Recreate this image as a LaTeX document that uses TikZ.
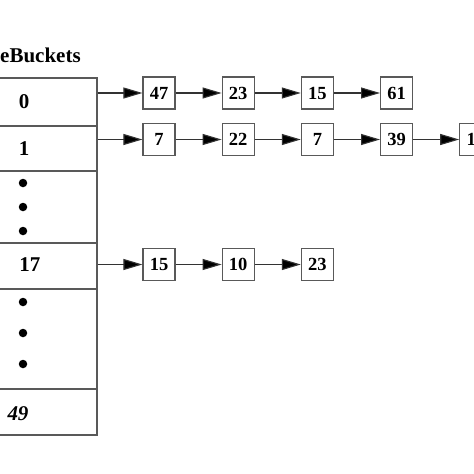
\documentclass[tikz,border=0pt]{standalone}
\usepackage{fontspec}
\setmainfont{Liberation Serif}
\usetikzlibrary{arrows.meta, positioning}

\begin{document}
\begin{tikzpicture}[
    x=1pt, y=-1pt,
    cell/.style={rectangle, draw=black!65, line width=1.2pt, minimum width=140pt, inner sep=0pt},
    item/.style={rectangle, draw=black!65, line width=1.2pt, minimum size=32pt, inner sep=0pt, font=\fontsize{18.5}{18.5}\selectfont\bfseries},
    link/.style={-{Triangle[length=19pt, width=11pt, fill=black]}, draw=black!80, line width=1.1pt},
    idx/.style={inner sep=0pt, font=\fontsize{21}{21}\selectfont\bfseries},
    dotmark/.style={circle, fill=black, minimum size=8.5pt, inner sep=0pt},
    node distance=46pt,
]
\clip (0,0) rectangle (474,474);

% Title
\node[anchor=base west, inner sep=0pt, font=\fontsize{21}{21}\selectfont\bfseries] (title) at (0,62) {eBuckets};

% Bucket table
\foreach \name/\y/\h in {c0/102/48, c1/148.5/45, cd1/207/72, c17/266/46, cd2/339/100, c49/412/46}
    \node[cell, minimum height=\h pt] (\name) at (27,\y) {};

\node[idx] (l0) at (24,102) {0};
\node[idx] (l1) at (24,149) {1};
\node[idx] (l17) at (30,265) {17};
\node[idx, font=\fontsize{21}{21}\selectfont\bfseries\itshape] (l49) at (18,414) {49};

\foreach \name/\y in {d1/183, d2/207, d3/231, d4/302, d5/333, d6/364}
    \node[dotmark] (\name) at (23,\y) {};

% Lists
\node[item] (b01) at (159,93) {47};
\node[item, right=of b01] (b02) {23};
\node[item, right=of b02] (b03) {15};
\node[item, right=of b03] (b04) {61};

\node[item] (b11) at (159,139.5) {7};
\node[item, right=of b11] (b12) {22};
\node[item, right=of b12] (b13) {7};
\node[item, right=of b13] (b14) {39};
\node[item, right=of b14] (b15) {16};

\node[item] (b171) at (159,264.5) {15};
\node[item, right=of b171] (b172) {10};
\node[item, right=of b172] (b173) {23};

% Arrows
\draw[link] (b01.west -| c0.east) -- (b01.west);
\draw[link] (b01) -- (b02);
\draw[link] (b02) -- (b03);
\draw[link] (b03) -- (b04);

\draw[link] (b11.west -| c1.east) -- (b11.west);
\draw[link] (b11) -- (b12);
\draw[link] (b12) -- (b13);
\draw[link] (b13) -- (b14);
\draw[link] (b14) -- (b15);

\draw[link] (b171.west -| c17.east) -- (b171.west);
\draw[link] (b171) -- (b172);
\draw[link] (b172) -- (b173);

\end{tikzpicture}
\end{document}
